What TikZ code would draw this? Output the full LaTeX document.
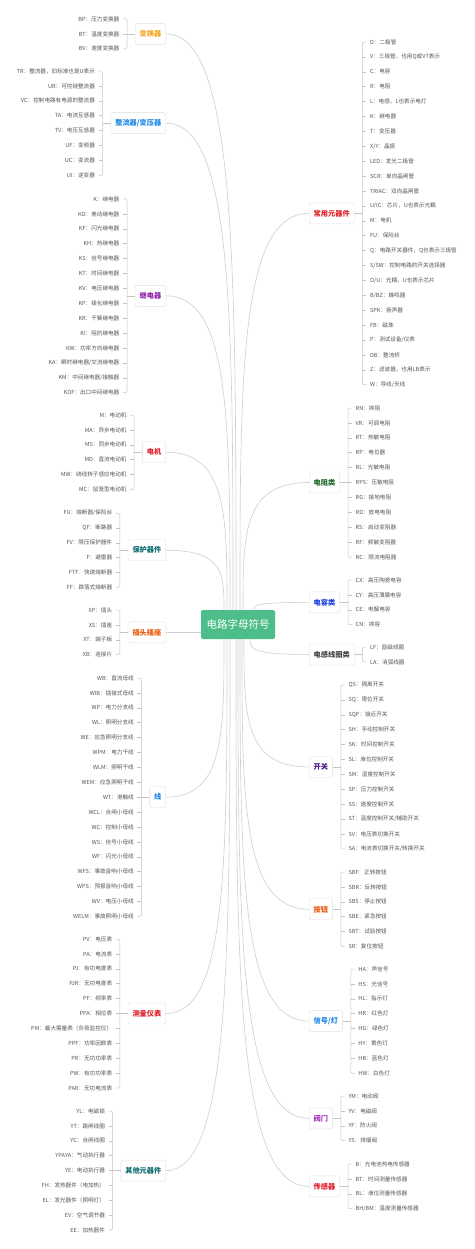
\documentclass[tikz,border=0pt]{standalone}
\usepackage{fontspec}
\setmainfont{Noto Sans CJK SC}
\usetikzlibrary{positioning,calc}

\definecolor{rootgreen}{HTML}{4DBE8A}
\definecolor{leafgray}{HTML}{555555}
\definecolor{twiggray}{HTML}{C4C4C4}
\definecolor{linkgray}{HTML}{CFCFCF}
\definecolor{boxgray}{HTML}{E0E0E0}
\definecolor{cyellow}{HTML}{F5A623}
\definecolor{cblue}{HTML}{1E88E5}
\definecolor{cpurple}{HTML}{8E24AA}
\definecolor{cred}{HTML}{E0202A}
\definecolor{cteal}{HTML}{0E6B6E}
\definecolor{corange}{HTML}{E8590C}
\definecolor{cgreen}{HTML}{1F6B2E}
\definecolor{cdeepblue}{HTML}{1A3DE0}
\definecolor{cdark}{HTML}{444444}
\definecolor{cviolet}{HTML}{4A1A8A}
\definecolor{cmagenta}{HTML}{A63CC0}

\tikzset{
  leaf/.style={font=\fontsize{5.6}{6}\selectfont, text=leafgray, inner xsep=3.5pt, inner ysep=0.5pt},
  cat/.style={draw=boxgray, fill=white, rounded corners=2pt, text=#1,
    font=\fontsize{7.2}{8}\selectfont\bfseries, inner xsep=4.5pt, inner ysep=1pt, minimum height=21pt},
  twig/.style={draw=twiggray, line width=0.5pt},
  link/.style={draw=linkgray, line width=0.6pt,
    to path={let \p1=(\tikztostart), \p2=(\tikztotarget) in
      .. controls (\x2,\y1) and (\x2,{\y2+0.6*(\y1-\y2)}) .. (\tikztotarget)}},
  rootbox/.style={fill=rootgreen, rounded corners=2pt, text=white,
    font=\fontsize{10.5}{12}\selectfont, minimum width=74pt, minimum height=29pt}
}

% branch on the left: name, title, colour, first leaf y, leaves
\newcommand{\branchL}[5]{%
  \foreach \lbl [count=\k] in {#5} {\xdef\nleaf{\k}}
  \pgfmathtruncatemacro{\lastk}{\nleaf-1}
  \node[cat=#3, anchor=east] (#1) at (166,{#4+7.45*\lastk}) {#2};
  \coordinate (#1-sp) at ([xshift=-8pt]#1.west);
  \coordinate (#1-lx) at ([xshift=-12pt]#1.west);
  \foreach \lbl [count=\k from 0] in {#5} {
    \coordinate (#1-r\k) at (0,{#4+14.9*\k});
    \node[leaf, anchor=east] (#1-\k) at (#1-lx |- #1-r\k) {\lbl};
    \ifnum\k>0 \ifnum\k<\lastk
      \draw[twig] (#1-\k.east) -- (#1-\k.east -| #1-sp);
    \fi\fi
  }
  \draw[twig, rounded corners=1.5pt] (#1-0.east) -- (#1-0.east -| #1-sp)
    -- (#1-\lastk.east -| #1-sp) -- (#1-\lastk.east);
  \draw[twig] (#1.west) -- (#1-sp);
}

% branch on the right: name, title, colour, first leaf y, leaves
\newcommand{\branchR}[5]{%
  \foreach \lbl [count=\k] in {#5} {\xdef\nleaf{\k}}
  \pgfmathtruncatemacro{\lastk}{\nleaf-1}
  \node[cat=#3, anchor=west] (#1) at (309,{#4+7.45*\lastk}) {#2};
  \coordinate (#1-sp) at ([xshift=8pt]#1.east);
  \coordinate (#1-lx) at ([xshift=12pt]#1.east);
  \foreach \lbl [count=\k from 0] in {#5} {
    \coordinate (#1-r\k) at (0,{#4+14.9*\k});
    \node[leaf, anchor=west] (#1-\k) at (#1-lx |- #1-r\k) {\lbl};
    \ifnum\k>0 \ifnum\k<\lastk
      \draw[twig] (#1-\k.west) -- (#1-\k.west -| #1-sp);
    \fi\fi
  }
  \draw[twig, rounded corners=1.5pt] (#1-0.west) -- (#1-0.west -| #1-sp)
    -- (#1-\lastk.west -| #1-sp) -- (#1-\lastk.west);
  \draw[twig] (#1.east) -- (#1-sp);
}

\begin{document}
\begin{tikzpicture}[x=1pt, y=-1pt]
\useasboundingbox (0,0) rectangle (474,1249);
\fill[white] (0,0) rectangle (474,1249);

\node[rootbox] (root) at (238,624.5) {电路字母符号};

% left side
\branchL{bhq}{变换器}{cyellow}{19}{BP：压力变换器, BT：温度变换器, BV：速度变换器}
\branchL{zlq}{整流器/变压器}{cblue}{71}{TR：整流器，旧标准也是U表示, UR：可控硅整流器,
  VC：控制电路有电源的整流器, TA：电流互感器, TV：电压互感器, UF：变频器, UC：变流器, UI：逆变器}
\branchL{jdq}{继电器}{cpurple}{199}{K：继电器, KD：差动继电器, KF：闪光继电器, KH：热继电器,
  KS：信号继电器, KT：时间继电器, KV：电压继电器, KP：极化继电器, KR：干簧继电器, KI：阻抗继电器,
  KW：功率方向继电器, KA：瞬时继电器/交流继电器, KM：中间继电器/接触器, KOF：出口中间继电器}
\branchL{dj}{电机}{cred}{415}{M：电动机, MA：异步电动机, MS：同步电动机, MD：直流电动机,
  MW：绕线转子感应电动机, MC：鼠笼型电动机}
\branchL{bh}{保护器件}{cteal}{513}{FU：熔断器/保险丝, QF：断路器, FV：限压保护器件, F：避雷器,
  FTF：快速熔断器, FF：跌落式熔断器}
\branchL{ct}{插头插座}{corange}{610}{XP：插头, XS：插座, XT：端子板, XB：连接片}
\branchL{xian}{线}{cblue}{678}{WB：直流母线, WIB：插接式母线, WP：电力分支线, WL：照明分支线,
  WE：应急照明分支线, WPM：电力干线, WLM：照明干线, WEM：应急照明干线, WT：滑触线, WCL：合闸小母线,
  WC：控制小母线, WS：信号小母线, WF：闪光小母线, WFS：事故音响小母线, WPS：预报音响小母线,
  WV：电压小母线, WELM：事故照明小母线}
\branchL{cl}{测量仪表}{cred}{939}{PV：电压表, PA：电流表, PJ：有功电度表, PJR：无功电度表, PF：频率表,
  PPA：相位表, PM：最大需量表（负荷监控仪）, PPF：功率因数表, PR：无功功率表, PW：有功功率表, PAR：无功电流表}
\branchL{qt}{其他元器件}{cteal}{1111}{YL：电磁锁, YT：跳闸线圈, YC：合闸线圈, YPAYA：气动执行器,
  YE：电动执行器, FH：发热器件（电加热）, EL：发光器件（照明灯）, EV：空气调节器, EE：加热器件}

% right side
\branchR{cy}{常用元器件}{cred}{42}{D：二极管, V：三极管，也用Q或VT表示, C：电容, R：电阻,
  L：电感，L也表示电灯, K：继电器, T：变压器, X/Y：晶振, LED：发光二极管, SCR：单向晶闸管,
  TRIAC：双向晶闸管, U/IC：芯片，U也表示光耦, M：电机, FU：保险丝, Q：电路开关器件，Q也表示三极管,
  S/SW：控制电路的开关选择器, O/U：光耦，U也表示芯片, B/BZ：蜂鸣器, SPK：扬声器, FB：磁珠,
  P：测试设备/仪表, DB：整流桥, Z：滤波器，也用LB表示, W：导线/天线}
\branchR{dz}{电阻类}{cgreen}{408}{RN：排阻, VR：可调电阻, RT：热敏电阻, RP：电位器, RL：光敏电阻,
  RPS：压敏电阻, RG：接地电阻, RD：放电电阻, RS：启动变阻器, RF：频敏变阻器, RC：限流电阻器}
\branchR{dr}{电容类}{cdeepblue}{580}{CX：高压陶瓷电容, CY：高压薄膜电容, CE：电解电容, CN：排容}
\branchR{dg}{电感线圈类}{cdark}{647}{LF：励磁线圈, LA：消弧线圈}
\branchR{kg}{开关}{cviolet}{685}{QS：隔离开关, SQ：限位开关, SQP：接近开关, SH：手动控制开关,
  SK：时间控制开关, SL：液位控制开关, SM：湿度控制开关, SP：压力控制开关, SS：速度控制开关,
  ST：温度控制开关/辅助开关, SV：电压表切换开关, SA：电流表切换开关/转换开关}
\branchR{an}{按钮}{corange}{872}{SBF：正转按钮, SBR：反转按钮, SBS：停止按钮, SBE：紧急按钮,
  SBT：试验按钮, SR：复位按钮}
\branchR{xh}{信号/灯}{cblue}{969}{HA：声信号, HS：光信号, HL：指示灯, HR：红色灯, HG：绿色灯,
  HY：黄色灯, HB：蓝色灯, HW：白色灯}
\branchR{fm}{阀门}{cmagenta}{1096}{YM：电动阀, YV：电磁阀, YF：防火阀, YS：排烟阀}
\branchR{cg}{传感器}{cred}{1164}{B：光电池热电传感器, BT：时间测量传感器, BL：液位测量传感器,
  BH/BM：温度测量传感器}

% ends of the links on the root box
\foreach \b/\dx in {bh/-14, dj/-11, jdq/-8, zlq/-5, bhq/-2, cy/2, dz/5, dr/16}
  \coordinate (e-\b) at ([xshift=\dx pt]root.north);
\foreach \b/\dx in {xian/-14, cl/-11, qt/-8, cg/-2, fm/0, xh/2, an/4, kg/6, dg/12}
  \coordinate (e-\b) at ([xshift=\dx pt]root.south);

\foreach \b in {bhq,zlq,jdq,dj,bh,xian,cl,qt}
  \draw[link] (\b.east) to (e-\b);
\foreach \b in {cy,dz,dr,dg,kg,an,xh,fm,cg}
  \draw[link] (\b.west) to (e-\b);
\draw[link] (ct.east) -- (ct.east -| root.west);
\end{tikzpicture}
\end{document}
